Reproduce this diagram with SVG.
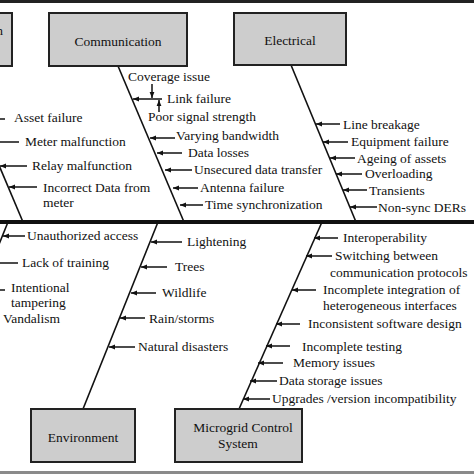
<svg xmlns="http://www.w3.org/2000/svg" width="474" height="474" viewBox="0 0 474 474">
<style>
.box{fill:#cdcdcd;stroke:#222;stroke-width:2}
.bone{stroke:#111;stroke-width:1.6;fill:none}
.arr{stroke:#111;stroke-width:1.5;fill:none;marker-end:url(#ah)}
.ln{stroke:#111;stroke-width:1.5;fill:none}
text{font-family:"Liberation Serif","Times New Roman",serif;font-size:13.5px;fill:#111}
.c{text-anchor:middle}
</style>
<defs>
<marker id="ah" viewBox="0 0 10 10" refX="10" refY="5" markerWidth="6" markerHeight="6" markerUnits="userSpaceOnUse" orient="auto"><path d="M0,1 L10,5 L0,9 z" fill="#111"/></marker>
</defs>
<rect x="0" y="0" width="474" height="474" fill="#fff"/>
<rect x="0" y="0" width="474" height="3" fill="#222"/>
<rect x="0" y="471" width="474" height="3" fill="#8a8a8a"/>

<g id="connectors">
<line class="bone" x1="0" y1="222" x2="474" y2="222" style="stroke-width:3.8"/>
<line class="bone" x1="-43" y1="66" x2="23" y2="222"/>
<line class="bone" x1="118" y1="66" x2="184" y2="222"/>
<line class="bone" x1="291" y1="65" x2="356" y2="222"/>
<line class="bone" x1="8" y1="222" x2="-67" y2="409"/>
<line class="bone" x1="158" y1="222" x2="83" y2="409"/>
<line class="bone" x1="322" y1="222" x2="239" y2="409"/>
</g>

<g id="protection">
<rect class="box" x="-130" y="13" width="142" height="53"/>
<text x="3" y="35" text-anchor="end">Protection</text>
<line class="arr" x1="5" y1="119" x2="-20" y2="119"/>
<text x="14" y="122">Asset failure</text>
<line class="arr" x1="19" y1="142" x2="-10" y2="142"/>
<text x="25" y="146">Meter malfunction</text>
<line class="arr" x1="27" y1="166" x2="0" y2="166"/>
<text x="32" y="170">Relay malfunction</text>
<line class="arr" x1="37" y1="187" x2="9" y2="187"/>
<text x="43" y="192">Incorrect Data from</text>
<text x="43" y="207">meter</text>
</g>

<g id="communication">
<rect class="box" x="49" y="13" width="138" height="53"/>
<text class="c" x="118" y="46">Communication</text>
<text x="128" y="81">Coverage issue</text>
<line class="arr" x1="152" y1="84" x2="152" y2="98"/>
<line class="arr" x1="162" y1="99" x2="133" y2="99"/>
<line class="arr" x1="159" y1="112" x2="159" y2="100"/>
<text x="167" y="103">Link failure</text>
<text x="148" y="121">Poor signal strength</text>
<line class="arr" x1="175" y1="138" x2="150" y2="138"/>
<text x="176" y="140">Varying bandwidth</text>
<line class="arr" x1="182" y1="153" x2="157" y2="153"/>
<text x="188" y="157">Data losses</text>
<line class="arr" x1="192" y1="170" x2="165" y2="170"/>
<text x="194" y="174">Unsecured data transfer</text>
<line class="arr" x1="198" y1="188" x2="173" y2="188"/>
<text x="200" y="192">Antenna failure</text>
<line class="arr" x1="203" y1="205" x2="180" y2="205"/>
<text x="205" y="209">Time synchronization</text>
</g>

<g id="electrical">
<rect class="box" x="234" y="13" width="112" height="52"/>
<text class="c" x="290" y="45">Electrical</text>
<line class="arr" x1="340" y1="124" x2="316" y2="124"/>
<text x="343" y="129">Line breakage</text>
<line class="arr" x1="348" y1="142" x2="323" y2="142"/>
<text x="351" y="146">Equipment failure</text>
<line class="arr" x1="355" y1="158" x2="330" y2="158"/>
<text x="357" y="163">Ageing of assets</text>
<line class="arr" x1="362" y1="174" x2="336" y2="174"/>
<text x="365" y="178">Overloading</text>
<line class="arr" x1="367" y1="190" x2="343" y2="190"/>
<text x="369" y="195">Transients</text>
<line class="arr" x1="377" y1="207" x2="350" y2="207"/>
<text x="378" y="212">Non-sync DERs</text>
</g>

<g id="human">
<line class="arr" x1="25" y1="236" x2="3" y2="236"/>
<text x="27" y="240">Unauthorized access</text>
<line class="arr" x1="18" y1="263" x2="-8" y2="263"/>
<text x="22" y="267">Lack of training</text>
<line class="arr" x1="5" y1="290" x2="-19" y2="290"/>
<text x="11" y="292">Intentional</text>
<text x="11" y="307">tampering</text>
<text x="3" y="323">Vandalism</text>
</g>

<g id="environment">
<rect class="box" x="31" y="409" width="104" height="53"/>
<text class="c" x="83" y="442">Environment</text>
<line class="arr" x1="182" y1="242" x2="151" y2="242"/>
<text x="187" y="246">Lightening</text>
<line class="arr" x1="167" y1="267" x2="141" y2="267"/>
<text x="175" y="271">Trees</text>
<line class="arr" x1="156" y1="293" x2="131" y2="293"/>
<text x="162" y="297">Wildlife</text>
<line class="arr" x1="145" y1="318" x2="120" y2="318"/>
<text x="149" y="323">Rain/storms</text>
<line class="arr" x1="135" y1="347" x2="109" y2="347"/>
<text x="138" y="351">Natural disasters</text>
</g>

<g id="microgrid">
<rect class="box" x="175" y="409" width="127" height="53"/>
<text class="c" x="243" y="432">Microgrid Control</text>
<text class="c" x="238" y="448">System</text>
<line class="arr" x1="338" y1="238" x2="314" y2="238"/>
<text x="343" y="242">Interoperability</text>
<line class="arr" x1="332" y1="256" x2="306" y2="256"/>
<text x="335" y="260">Switching between</text>
<text x="330" y="277">communication protocols</text>
<line class="arr" x1="316" y1="290" x2="292" y2="290"/>
<text x="323" y="294">Incomplete integration of</text>
<text x="323" y="310">heterogeneous interfaces</text>
<line class="arr" x1="300" y1="324" x2="276" y2="324"/>
<text x="308" y="328">Inconsistent software design</text>
<line class="arr" x1="290" y1="346" x2="266" y2="346"/>
<text x="302" y="351">Incomplete testing</text>
<line class="arr" x1="283" y1="363" x2="258" y2="363"/>
<text x="293" y="367">Memory issues</text>
<line class="arr" x1="277" y1="381" x2="250" y2="381"/>
<text x="279" y="385">Data storage issues</text>
<line class="arr" x1="270" y1="399" x2="243" y2="399"/>
<text x="272" y="403">Upgrades /version incompatibility</text>
</g>
</svg>
